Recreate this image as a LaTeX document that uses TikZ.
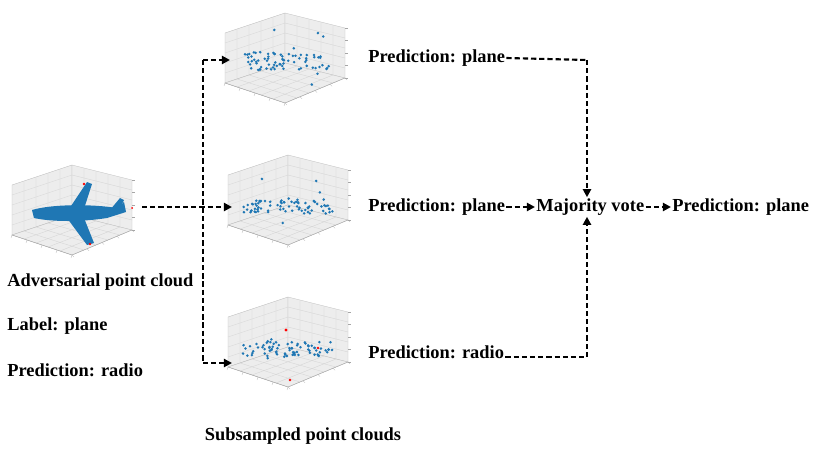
\documentclass[tikz,border=0pt]{standalone}
\usepackage{fontspec}
\setmainfont{Liberation Serif}
\usetikzlibrary{arrows.meta}
\definecolor{ptblue}{RGB}{31,119,180}
\tikzset{
 lbl/.style={font=\fontsize{15.7}{19}\selectfont\bfseries, inner sep=1pt},
 conn/.style={line width=1.8pt, dash pattern=on 4.5pt off 2.5pt},
 arr/.style={conn, -{Triangle[length=7pt,width=7pt]}},
 pane/.style={fill=gray!14, draw=gray!50, line width=0.3pt},
 grid3/.style={draw=gray!35, line width=0.25pt}
}
\newcommand{\axesbox}{%
 \filldraw[pane] (0,25) -- (60,5) -- (60,55) -- (0,75) -- cycle;
 \filldraw[pane] (60,5) -- (120,20) -- (120,70) -- (60,55) -- cycle;
 \filldraw[pane] (0,75) -- (60,55) -- (120,70) -- (60,95) -- cycle;
 \foreach \t in {0.2,0.4,0.6,0.8}{
  \draw[grid3] (0,{25+50*\t}) -- (60,{5+50*\t}) -- (120,{20+50*\t});
  \draw[grid3] ({60*\t},{25-20*\t}) -- ({60*\t},{75-20*\t}) -- ({60+60*\t},{95-25*\t});
  \draw[grid3] ({60+60*\t},{5+15*\t}) -- ({60+60*\t},{55+15*\t}) -- ({60*\t},{75+20*\t});
 }
 \draw[gray!70,line width=0.3pt] (0,75) -- (60,95) -- (120,70);
 \foreach \t in {0,0.25,0.5,0.75,1}{
  \draw[gray!70,line width=0.2pt] ({60*\t},{75+20*\t}) -- ({60*\t-1},{78+20*\t});
  \draw[gray!70,line width=0.2pt] ({60+60*\t},{95-25*\t}) -- ({62+60*\t},{97-25*\t});
  \draw[gray!70,line width=0.2pt] (120,{20+50*\t}) -- (123,{20+50*\t});
 }
}
\begin{document}
\begin{tikzpicture}[x=0.03cm,y=-0.03cm]
\useasboundingbox (0,0) rectangle (814,450);
\pgfmathsetseed{7}
% left plot
\begin{scope}[shift={(12,160)}]
 \axesbox
 \fill[ptblue] (20,50) .. controls (40,44) and (80,44) .. (105,48) -- (112,42) -- (114,52) -- (95,58)
   .. controls (70,62) and (40,62) .. (22,58) -- cycle;
 \fill[ptblue] (55,52) -- (75,22) -- (80,24) -- (70,55) -- cycle;
 \fill[ptblue] (55,58) -- (75,85) -- (82,83) -- (72,58) -- cycle;
 \fill[ptblue] (98,50) -- (108,38) -- (112,40) -- (106,52) -- cycle;
 \fill[red] (72,24) circle (1.3); \fill[red] (78,84) circle (1.3); \fill[red] (120,48) circle (1);
\end{scope}
\coordinate (src) at (142,207);
% top plot
\begin{scope}[shift={(225,8)}]
 \axesbox
 \foreach \i in {1,...,70}{\fill[ptblue] ({20+85*rnd},{44+18*rnd}) circle (1.4);}
 \foreach \i in {1,...,8}{\fill[ptblue] ({30+70*rnd},{20+60*rnd}) circle (1.4);}
\end{scope}
% middle plot
\begin{scope}[shift={(228,150)}]
 \axesbox
 \foreach \i in {1,...,70}{\fill[ptblue] ({15+90*rnd},{50+14*rnd}) circle (1.4);}
 \foreach \i in {1,...,8}{\fill[ptblue] ({30+70*rnd},{25+55*rnd}) circle (1.4);}
\end{scope}
% bottom plot
\begin{scope}[shift={(228,292)}]
 \axesbox
 \foreach \i in {1,...,70}{\fill[ptblue] ({15+90*rnd},{50+14*rnd}) circle (1.4);}
 \foreach \i in {1,...,8}{\fill[ptblue] ({30+70*rnd},{30+50*rnd}) circle (1.4);}
 \fill[red] (58,38) circle (1.6); \fill[red] (90,56) circle (1.4); \fill[red] (62,88) circle (1.4);
\end{scope}
\coordinate (p1) at (230,60);
\coordinate (p2) at (232,207);
\coordinate (p3) at (232,363);
\coordinate (bt) at (203,60);
\coordinate (bb) at (203,363);
% texts
\node[lbl,anchor=west] (adv) at (6,282) {Adversarial point cloud};
\node[lbl,anchor=west] (lab) at (6,326) {Label: plane};
\node[lbl,anchor=west] (pr0) at (6,370) {Prediction: radio};
\node[lbl,anchor=west] (pr1) at (367,58) {Prediction: plane};
\node[lbl,anchor=west] (pr2) at (367,207) {Prediction: plane};
\node[lbl,anchor=west] (pr3) at (367,352) {Prediction: radio};
\node[lbl,anchor=west] (maj) at (535,207) {Majority vote};
\node[lbl,anchor=west] (fin) at (671,207) {Prediction: plane};
\node[lbl] (sub) at (303,436) {Subsampled point clouds};
\coordinate (c1) at (587,60);
\coordinate (c3) at (587,357);
% connectors
\draw[arr] (src) -- (p2);
\draw[arr] (bt) -- (p1);
\draw[conn] (bt) -- (bb);
\draw[arr] (bb) -- (p3);
\draw[conn] (pr1.east) -- (c1);
\draw[arr] (c1) -- (maj.north -| c1);
\draw[conn] (pr3.east |- c3) -- (c3);
\draw[arr] (c3) -- (maj.south -| c1);
\draw[arr] (pr2) -- (maj);
\draw[arr] (maj) -- (fin);
\end{tikzpicture}
\end{document}
